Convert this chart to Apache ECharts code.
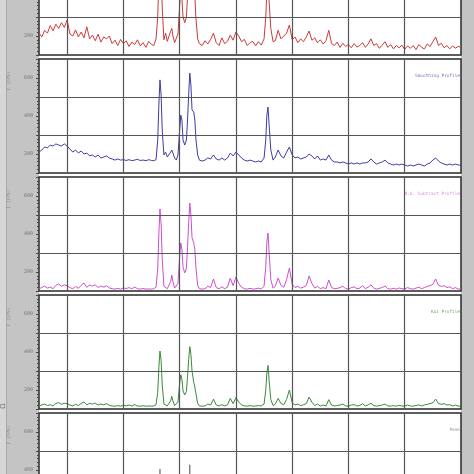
<!DOCTYPE html>
<html><head><meta charset="utf-8">
<script src="https://cdn.jsdelivr.net/npm/echarts@6/dist/echarts.min.js"></script>
<style>html,body{margin:0;padding:0;background:#fff}#c{width:474px;height:474px}</style>
</head><body><div id="c"></div>
<script>
// ---- DATA ----
const twoTheta = [
  5,5.5,6,6.5,7,7.5,8,8.5,9,9.5,10,10.5,11,11.5,12,12.5,13,13.5,14,14.5,15,15.5,16,16.5,17,17.5,18,18.5,19,19.5,20,20.5,21,21.5,22,22.5,23,23.5,24,24.5,25,
  25.4,25.8,26.1,26.3,26.5,26.7,26.9,27.2,27.5,27.8,28.1,28.4,28.6,28.8,29.1,29.4,29.7,30.0,30.2,30.4,30.6,30.9,31.2,31.4,31.6,31.8,32.0,32.2,32.5,32.7,32.9,33.2,33.5,
  34,34.5,35,35.5,36,36.5,37,37.5,38,38.5,39,39.5,40,40.5,41,41.5,42,42.5,43,43.5,44,44.5,45,
  45.3,45.5,45.7,45.9,46.2,46.6,
  47,47.5,48,48.5,49,49.5,50,50.5,51,51.5,52,52.5,53,53.5,54,54.5,55,55.5,56,56.5,57,57.5,58,58.5,59,59.5,60,60.5,61,61.5,62,62.5,63,63.5,64,64.5,65,65.5,66,66.5,67,67.5,68,68.5,69,69.5,70,70.5,71,71.5,72,72.5,73,73.5,74,74.5,75,75.5,76,76.5,77,77.5,78,78.5,79,79.5,80
];
const rawProfile = [
  216,195,230,215,255,228,262,240,270,245,285,210,200,232,195,221,190,248,185,205,175,210,168,195,185,200,160,178,150,182,160,175,145,168,155,180,148,165,140,172,155,
  150,185,300,500,650,560,350,180,215,172,200,225,240,200,165,175,210,360,440,400,300,270,300,410,560,690,610,470,450,410,290,185,160,
  150,175,158,182,215,165,150,190,160,172,205,178,221,200,170,182,150,165,172,148,170,152,185,
  300,440,480,380,240,170,
  175,230,185,200,215,258,180,195,165,185,170,195,226,178,190,165,180,158,175,230,160,150,168,140,162,145,155,138,160,142,150,165,140,158,185,150,160,135,152,170,140,155,132,150,138,152,130,148,135,150,128,155,140,132,158,145,170,195,150,162,138,150,132,148,136,145,140
];
const smoothingProfile = [
  210,221,237,232,247,242,253,247,242,253,242,226,210,221,205,216,200,205,190,195,184,195,179,184,190,179,174,168,174,168,170,166,170,165,168,172,166,168,165,170,166,
  165,170,274,458,590,510,326,195,210,184,190,210,221,205,179,168,195,326,405,379,274,247,274,379,510,626,563,432,421,379,274,195,168,
  163,168,179,174,195,174,168,179,168,179,205,190,210,195,179,168,163,168,163,158,163,158,179,
  274,405,447,353,221,168,
  184,221,190,179,210,237,195,179,184,174,179,184,200,190,174,190,168,174,168,195,168,158,158,153,158,153,147,153,147,153,147,153,153,158,174,158,147,153,158,168,153,147,142,147,142,147,142,137,142,137,142,147,142,137,147,153,168,179,163,153,147,142,147,142,147,142,142
];
const bgSubtractProfile = [
  112,118,126,115,121,112,130,137,125,132,128,118,112,124,114,130,142,120,131,126,133,118,126,120,128,116,112,110,114,110,116,113,118,112,121,112,110,113,110,111,110,
  112,120,215,400,532,455,270,125,132,112,118,150,184,150,115,110,140,280,353,320,225,195,221,330,460,563,500,380,353,320,220,130,112,
  110,112,125,118,163,118,112,122,112,120,168,128,174,140,120,112,110,114,110,112,115,111,125,
  230,360,405,300,160,115,
  125,168,130,120,160,221,135,118,125,115,120,128,179,140,115,125,112,118,112,158,118,112,114,118,125,112,110,118,122,112,115,128,112,120,132,115,110,114,118,126,112,110,114,110,116,112,110,118,112,110,115,120,112,118,124,128,135,163,130,124,128,118,122,112,118,110,112
];
const ka1Profile = [
  116,121,126,118,123,116,129,134,125,130,128,121,116,125,118,129,137,122,130,126,131,121,126,122,128,119,116,115,118,115,119,117,121,116,123,116,115,117,115,116,115,
  116,122,188,318,405,356,227,126,130,116,121,143,167,143,118,115,136,234,280,258,195,174,193,269,360,428,388,300,240,215,180,129,116,
  115,116,126,121,152,121,116,123,116,122,156,128,160,136,122,116,115,118,115,116,118,116,126,
  199,290,330,248,150,118,
  126,156,129,122,150,200,133,121,126,118,122,128,163,136,118,126,116,121,116,149,121,116,118,121,126,116,115,121,123,116,118,128,116,122,130,118,115,118,121,126,116,115,118,115,119,116,115,121,116,115,118,122,116,121,125,128,133,152,129,125,128,121,123,116,121,115,116
];
const peakPositions = [26.5, 28.6, 30.2, 31.8, 32.5, 36.0, 39.0, 40.0, 45.7, 47.5, 49.5, 53.0, 56.5, 75.5];
const peakHeights   = [405, 167, 280, 428, 240, 152, 156, 160, 330, 156, 200, 163, 149, 152];
const yTickLabels = [200, 400, 600];
const panelNames = ['', 'Smoothing Profile', 'B.G. Subtract Profile', 'Ka1 Profile', 'Peak'];
const panelNameColors = ['#c06060', '#7070b8', '#d890d8', '#70aa70', '#9a9a9a'];
const profileColors = ['#cc3a3a', '#3c3ca6', '#cc4fcc', '#3a8a3a'];
const xGridValues = [10, 20, 30, 40, 50, 60, 70];
const yGridValues = [300, 500];

// ---- CHART ----
const chart = echarts.init(document.getElementById('c'), null, {renderer: 'canvas'});
const TOPS = [-59, 59, 177, 295, 413], H = 114, LEFT = 39, RIGHT = 13;
const profiles = [rawProfile, smoothingProfile, bgSubtractProfile, ka1Profile];
const zip = arr => twoTheta.map((x, i) => [x, arr[i]]);

const grid = TOPS.map(t => ({left: LEFT, right: RIGHT, top: t, height: H, show: true,
  outerBoundsMode: 'none', containLabel: false,
  backgroundColor: '#fff', borderColor: '#2a2a2a', borderWidth: 1.5}));
const xAxis = TOPS.map((t, i) => ({type: 'value', gridIndex: i, min: 5, max: 80,
  axisLine: {show: false}, axisTick: {show: false}, axisLabel: {show: false}, splitLine: {show: false}}));
const yAxis = TOPS.map((t, i) => ({type: 'value', gridIndex: i, min: 100, max: 700, interval: 100,
  axisLine: {show: false},
  axisTick: {show: true, length: 3, lineStyle: {color: '#444', width: 1}},
  minorTick: {show: true, splitNumber: 5, length: 2, lineStyle: {color: '#444', width: 1}},
  axisLabel: {margin: 6, fontSize: 5, color: '#777', fontFamily: 'DejaVu Sans Mono',
    formatter: v => yTickLabels.includes(v) ? String(v) : ''},
  splitLine: {show: false}}));

const series = [];
TOPS.forEach((t, i) => {
  series.push({type: 'line', xAxisIndex: i, yAxisIndex: i, data: [[5, -1000], [80, -1000]],
    symbol: 'none', lineStyle: {opacity: 0}, z: 1, silent: true,
    markLine: {silent: true, symbol: ['none', 'none'], animation: false, label: {show: false},
      lineStyle: {color: '#555', width: 1.2, type: 'solid'},
      data: [...xGridValues.map(v => ({xAxis: v})), ...yGridValues.map(v => ({yAxis: v}))]}});
});
profiles.forEach((arr, i) => {
  series.push({type: 'line', xAxisIndex: i, yAxisIndex: i, data: zip(arr), symbol: 'none',
    lineStyle: {color: profileColors[i], width: 1}, z: 3, clip: true});
});
series.push({type: 'bar', xAxisIndex: 4, yAxisIndex: 4, barWidth: 1,
  data: peakPositions.map((x, i) => [x, peakHeights[i]]), itemStyle: {color: '#444'}, z: 3});

const graphic = [
  {type: 'rect', shape: {x: 0, y: 0, width: LEFT, height: 474}, style: {fill: '#c4c4c4'}, z: -10},
  {type: 'rect', shape: {x: 0, y: 0, width: 6, height: 474}, style: {fill: '#d6d6d6'}, z: -9},
  {type: 'rect', shape: {x: 6, y: 0, width: 1, height: 474}, style: {fill: '#a8a8a8'}, z: -9},
  {type: 'rect', shape: {x: 474 - RIGHT, y: 0, width: RIGHT, height: 474}, style: {fill: '#c4c4c4'}, z: -10},
  {type: 'text', x: 3, y: 406, rotation: Math.PI / 2, style: {text: 'Ω', fill: '#777', font: '7px DejaVu Sans', textAlign: 'center', textVerticalAlign: 'middle'}}
];
TOPS.forEach((t, i) => {
  graphic.push({type: 'text', x: 9, y: t + 22, rotation: Math.PI / 2,
    style: {text: 'I (CPS)', fill: '#8a8a8a', font: '4.5px DejaVu Sans Mono', textAlign: 'center', textVerticalAlign: 'middle'}});
  if (panelNames[i]) graphic.push({type: 'text', x: 460, y: t + 17,
    style: {text: panelNames[i], fill: panelNameColors[i], font: '4.4px DejaVu Sans Mono', textAlign: 'right', textVerticalAlign: 'middle'}});
});

chart.setOption({animation: false, backgroundColor: '#fff', grid, xAxis, yAxis, series, graphic});
</script></body></html>
